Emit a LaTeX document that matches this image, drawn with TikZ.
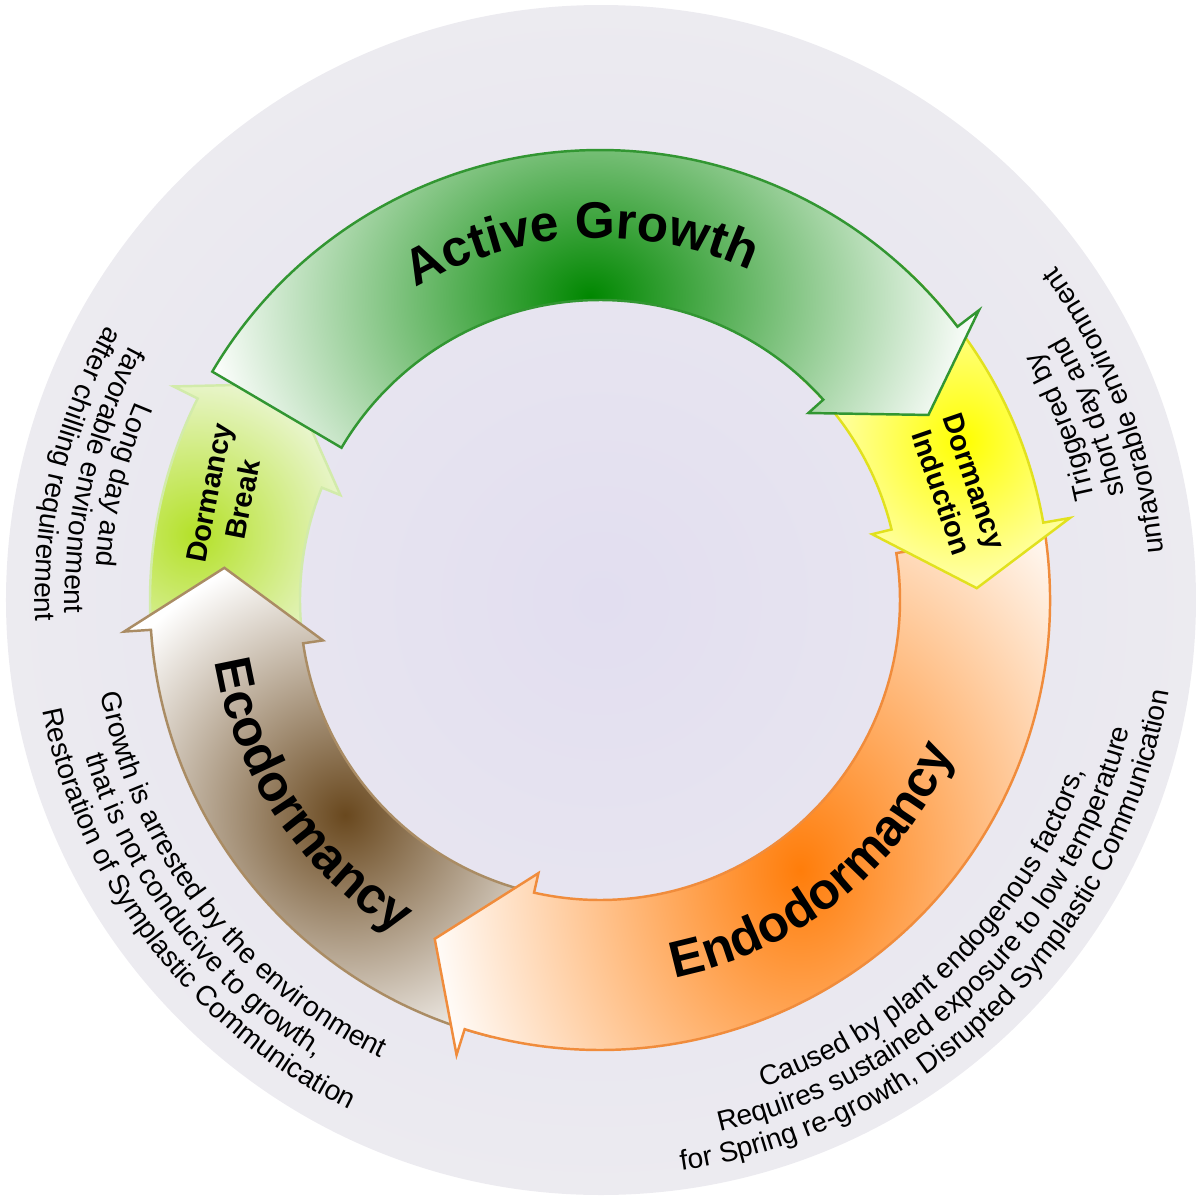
\documentclass[tikz,border=0pt]{standalone}
\usepackage{fontspec}
\setmainfont{Liberation Sans}
\usetikzlibrary{decorations.text}

\definecolor{discin}{RGB}{226,222,240}
\definecolor{discout}{RGB}{236,235,240}
\definecolor{agline}{RGB}{50,150,50}
\definecolor{agdark}{RGB}{0,135,0}
\definecolor{diline}{RGB}{225,225,30}
\definecolor{diyellow}{RGB}{255,255,0}
\definecolor{dipale}{RGB}{255,255,205}
\definecolor{enline}{RGB}{240,140,60}
\definecolor{enorange}{RGB}{255,125,10}
\definecolor{ecline}{RGB}{170,140,100}
\definecolor{ecbrown}{RGB}{105,72,30}
\definecolor{dbline}{RGB}{210,235,170}
\definecolor{dbgreen}{RGB}{180,225,40}
\definecolor{dbpale}{RGB}{238,247,220}

\tikzset{
  phase/.style n args={4}{insert path={(#1:4.5) arc[start angle=#1, end angle=#2, radius=4.5]
      -- (#2:4.77) -- (#4:3.77) -- (#3:2.8) -- (#3:3) arc[start angle=#3, end angle=#1, radius=3] -- cycle}},
  phaseline/.style={line width=0.7pt, line join=miter},
  bigtxt/.style={decorate, decoration={text along path, text align=center,
      text={|\bfseries\fontsize{14.6}{16}\selectfont|#1}}},
  smalltxt/.style={decorate, decoration={text along path, text align=center,
      text={|\fontsize{8}{9}\selectfont|#1}}},
  steplabel/.style={align=center, font=\bfseries\fontsize{8.2}{9.8}\selectfont, inner sep=0pt}
}

\begin{document}
\begin{tikzpicture}
  \useasboundingbox (-6,-6) rectangle (6,6);
  % background disc
  \shade[inner color=discin, outer color=discout] (0.01,0) circle (5.95);

  % the five phases, back to front
  \draw[phaseline, draw=dbline, fill=dbpale,
    path picture={\shade[inner color=dbgreen, outer color=dbpale] (-4.05,0.65) circle (1.7);},
    phase={188}{153.4}{158}{145}];
  \draw[phaseline, draw=ecline, fill=white,
    path picture={\shade[inner color=ecbrown, outer color=white] (-2.55,-2.15) circle (2.7);},
    phase={256}{183.8}{188.3}{175.1}];
  \draw[phaseline, draw=enline, fill=white,
    path picture={\shade[inner color=enorange, outer color=white] (2.0,-2.7) ellipse (3.8 and 4.8);},
    phase={9}{-107.5}{-102.7}{-116}];
  \draw[phaseline, draw=diline, fill=dipale,
    path picture={\shade[inner color=diyellow, outer color=dipale] (3.65,1.45) circle (1.6);},
    phase={48}{9.9}{13.6}{1.8}];
  \draw[phaseline, draw=agline, fill=white,
    path picture={\shade[inner color=agdark, outer color=white] (-0.1,3.03) ellipse (3.9 and 3.2);},
    phase={149.5}{37.4}{41.9}{29.4}];

  % phase names
  \path[bigtxt={Active Growth}] (153:3.62) arc[start angle=153, end angle=33, radius=3.62];
  \path[bigtxt={Endodormancy}] (-111:3.85) arc[start angle=-111, end angle=9, radius=3.85];
  \path[bigtxt={Ecodormancy}] (154:3.9) arc[start angle=154, end angle=274, radius=3.9];
  \node[steplabel, rotate=79] (brk) at (-3.74,1.04) {Dormancy\\Break};
  \node[steplabel, rotate=-71] (ind) at (3.58,1.13) {Dormancy\\Induction};

  % conditions round the rim
  \path[smalltxt={Long day and}] (106.5:5.05) arc[start angle=106.5, end angle=226.5, radius=5.05];
  \path[smalltxt={favorable environment}] (106.5:5.35) arc[start angle=106.5, end angle=226.5, radius=5.35];
  \path[smalltxt={after chilling requirement}] (106.5:5.65) arc[start angle=106.5, end angle=226.5, radius=5.65];

  \path[smalltxt={Triggered by}] (-39.5:5.05) arc[start angle=-39.5, end angle=80.5, radius=5.05];
  \path[smalltxt={short day and}] (-39.5:5.35) arc[start angle=-39.5, end angle=80.5, radius=5.35];
  \path[smalltxt={unfavorable environment}] (-39.5:5.65) arc[start angle=-39.5, end angle=80.5, radius=5.65];

  \path[smalltxt={Growth is arrested by the environment}] (157.5:5.08) arc[start angle=157.5, end angle=277.5, radius=5.08];
  \path[smalltxt={that is not conducive to growth,}] (157.5:5.38) arc[start angle=157.5, end angle=277.5, radius=5.38];
  \path[smalltxt={Restoration of Symplastic Communication}] (157.5:5.68) arc[start angle=157.5, end angle=277.5, radius=5.68];

  \path[smalltxt={Caused by plant endogenous factors,}] (-105.5:5.14) arc[start angle=-105.5, end angle=14.5, radius=5.14];
  \path[smalltxt={Requires sustained exposure to low temperature}] (-105.5:5.45) arc[start angle=-105.5, end angle=14.5, radius=5.45];
  \path[smalltxt={for Spring re-growth, Disrupted Symplastic Communication}] (-105.5:5.76) arc[start angle=-105.5, end angle=14.5, radius=5.76];
\end{tikzpicture}
\end{document}
